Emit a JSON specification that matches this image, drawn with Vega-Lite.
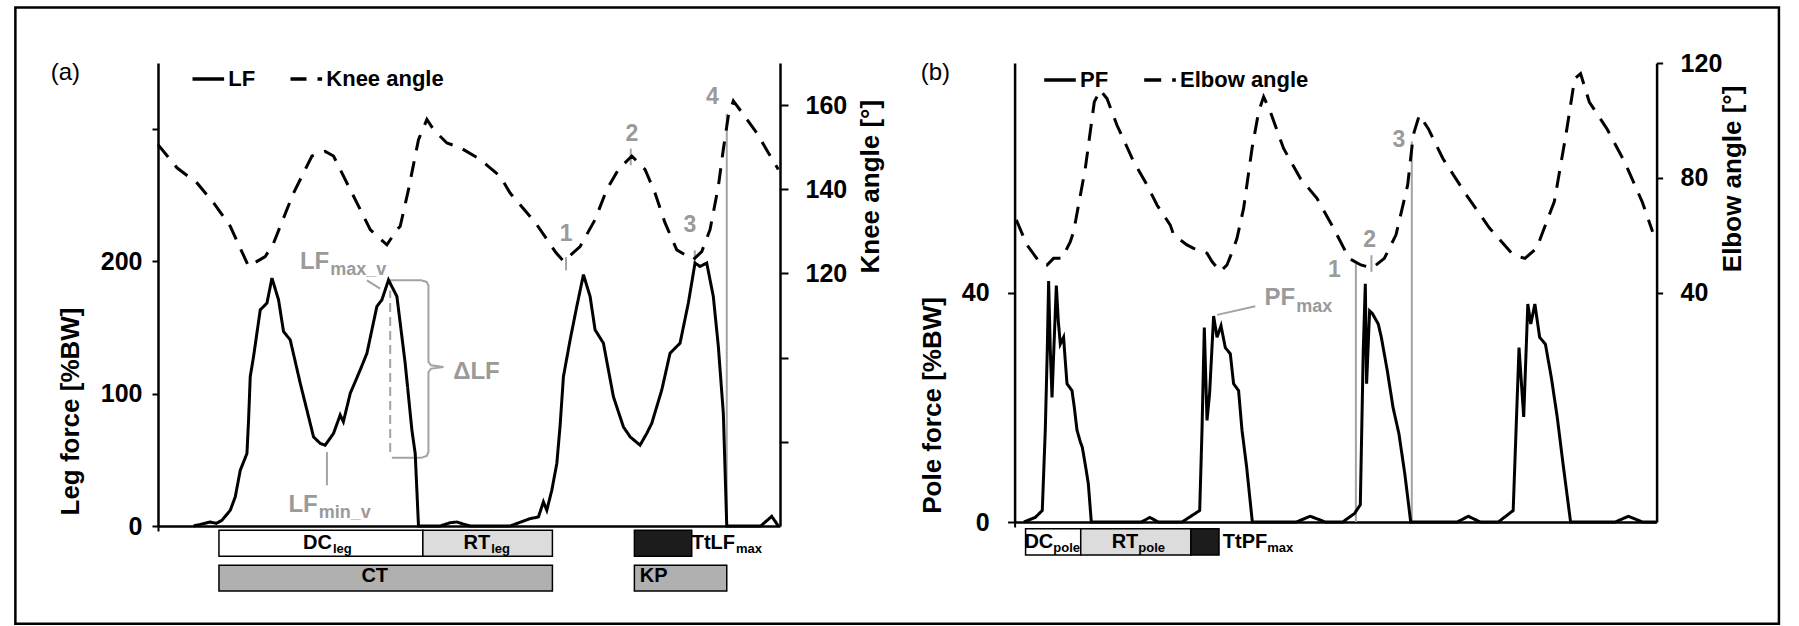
{
  "$schema": "https://vega.github.io/schema/vega-lite/v6.json",
  "background": "white",
  "padding": {"left": 14, "top": 6, "right": 0, "bottom": 0},
  "bounds": "flush",
  "spacing": 234.6,
  "resolve": {
    "scale": {"x": "independent", "y": "independent", "color": "independent", "strokeDash": "independent"},
    "legend": {"strokeDash": "independent"}
  },
  "datasets": {
    "legForce": [
      {"t":5.72,"f":0},{"t":8.4,"f":3},{"t":9.37,"f":2},{"t":10.28,"f":4.3},{"t":11.62,"f":11.9},{"t":12.42,"f":22},{"t":13.23,"f":42.2},{"t":14.3,"f":54.8},{"t":14.56,"f":80},{"t":14.83,"f":112.9},{"t":15.36,"f":128},{"t":16.44,"f":163.4},{"t":17.52,"f":168.5},{"t":18.32,"f":187.4},{"t":19.38,"f":171},{"t":20.18,"f":147},{"t":21.26,"f":140.7},{"t":22.87,"f":107.9},{"t":24.47,"f":77.6},{"t":25.0,"f":67.4},{"t":26.08,"f":62.4},{"t":26.88,"f":61.1},{"t":28.22,"f":70},{"t":29.29,"f":83.9},{"t":29.8,"f":78.8},{"t":30.91,"f":100.3},{"t":32.51,"f":118},{"t":33.59,"f":130.6},{"t":35.19,"f":166},{"t":36.0,"f":171},{"t":37.06,"f":186},{"t":38.41,"f":173.5},{"t":39.74,"f":123},{"t":40.82,"f":72.5},{"t":41.35,"f":54.8},{"t":41.88,"f":0},{"t":45.36,"f":0},{"t":46.97,"f":2.5},{"t":48.05,"f":3},{"t":49.06,"f":1.5},{"t":50.18,"f":0},{"t":56.61,"f":0},{"t":59.83,"f":5.6},{"t":61.16,"f":6.8},{"t":61.96,"f":18.2},{"t":62.51,"f":11.9},{"t":63.31,"f":27},{"t":64.12,"f":47.3},{"t":64.65,"f":76},{"t":65.18,"f":112.9},{"t":66.26,"f":140.7},{"t":67.33,"f":166},{"t":68.4,"f":190},{"t":69.47,"f":173.5},{"t":70.27,"f":148.3},{"t":71.61,"f":138.2},{"t":73.22,"f":97.7},{"t":74.82,"f":75},{"t":75.9,"f":67.4},{"t":77.5,"f":61.1},{"t":78.58,"f":70},{"t":79.38,"f":77.6},{"t":80.99,"f":102.8},{"t":82.32,"f":130.6},{"t":83.93,"f":138.2},{"t":85.26,"f":168.5},{"t":86.34,"f":198.8},{"t":87.14,"f":196.2},{"t":88.22,"f":198.8},{"t":89.28,"f":173.5},{"t":90.09,"f":135.6},{"t":90.89,"f":85.2},{"t":91.44,"f":0},{"t":96.9,"f":0},{"t":98.67,"f":7.3},{"t":99.73,"f":0}
    ],
    "kneeAngle": [
      {"t":0,"a":150.6},{"t":3.05,"a":145.1},{"t":6.27,"a":141.5},{"t":8.93,"a":136.8},{"t":11.62,"a":131.2},{"t":14.56,"a":121.7},{"t":17.24,"a":124},{"t":18.58,"a":127.2},{"t":19.65,"a":131.2},{"t":21.79,"a":139.1},{"t":24.75,"a":147.9},{"t":26.88,"a":149},{"t":28.22,"a":147.9},{"t":30.37,"a":141.5},{"t":32.51,"a":135.2},{"t":34.12,"a":130.4},{"t":36.8,"a":126.8},{"t":38.41,"a":130.4},{"t":38.94,"a":131.2},{"t":40.27,"a":139.9},{"t":41.88,"a":151.8},{"t":43.23,"a":156.6},{"t":44.29,"a":154.2},{"t":46.44,"a":151},{"t":48.58,"a":149.9},{"t":51.79,"a":147.1},{"t":55.0,"a":143.1},{"t":56.61,"a":139.1},{"t":60.71,"a":132},{"t":64.0,"a":124.9},{"t":65.23,"a":122.9},{"t":67.86,"a":126.4},{"t":70.27,"a":132.8},{"t":72.15,"a":139.9},{"t":74.02,"a":144.7},{"t":76.17,"a":147.9},{"t":78.31,"a":144.7},{"t":79.91,"a":139.1},{"t":81.52,"a":132},{"t":83.4,"a":125.6},{"t":86.07,"a":123.3},{"t":87.42,"a":125.2},{"t":88.75,"a":130.4},{"t":90.09,"a":140.7},{"t":90.89,"a":149.5},{"t":91.69,"a":157.4},{"t":92.5,"a":161},{"t":94.1,"a":157.8},{"t":96.26,"a":153.4},{"t":98.12,"a":148.7},{"t":99.73,"a":144.7}
    ],
    "poleForce": [
      {"t":1.45,"f":0},{"t":3.22,"f":0.8},{"t":4.31,"f":2},{"t":4.78,"f":16},{"t":5.09,"f":30},{"t":5.3,"f":42},{"t":5.56,"f":30},{"t":5.83,"f":21.7},{"t":6.11,"f":30},{"t":6.5,"f":41.2},{"t":6.81,"f":35},{"t":7.12,"f":31},{"t":7.63,"f":32.2},{"t":7.9,"f":28},{"t":8.16,"f":24.1},{"t":8.94,"f":22.9},{"t":9.3,"f":20},{"t":9.72,"f":16},{"t":10.23,"f":14},{"t":10.55,"f":13},{"t":11.01,"f":10},{"t":11.48,"f":6.7},{"t":11.95,"f":0},
      {"t":19.75,"f":0},{"t":21.06,"f":0.8},{"t":22.38,"f":0},
      {"t":26.09,"f":0},{"t":28.83,"f":2},{"t":29.19,"f":16},{"t":29.55,"f":33.9},{"t":29.97,"f":17.7},{"t":30.37,"f":22.3},{"t":31.0,"f":35.9},{"t":31.53,"f":32.2},{"t":32.15,"f":34.2},{"t":32.82,"f":30.4},{"t":33.6,"f":29.3},{"t":34.11,"f":24.1},{"t":34.89,"f":22.9},{"t":35.42,"f":16},{"t":36.14,"f":9.6},{"t":37.03,"f":0},
      {"t":43.88,"f":0},{"t":46.06,"f":1},{"t":48.4,"f":0},
      {"t":51.12,"f":0},{"t":52.96,"f":1.5},{"t":53.85,"f":3},{"t":54.31,"f":30},{"t":54.63,"f":41.5},{"t":54.83,"f":24.1},{"t":55.3,"f":36.8},{"t":55.75,"f":36.3},{"t":56.65,"f":34.5},{"t":57.12,"f":32.2},{"t":58.05,"f":26.4},{"t":58.94,"f":20},{"t":59.86,"f":15.4},{"t":60.78,"f":8.4},{"t":61.7,"f":0},
      {"t":68.96,"f":0},{"t":70.67,"f":1},{"t":72.54,"f":0},
      {"t":75.34,"f":0},{"t":77.66,"f":2},{"t":78.57,"f":30.4},{"t":79.3,"f":18.3},{"t":79.94,"f":38},{"t":80.4,"f":34.5},{"t":81.04,"f":38},{"t":81.78,"f":32.2},{"t":82.68,"f":31},{"t":83.6,"f":25.2},{"t":84.52,"f":18.3},{"t":85.42,"f":10.2},{"t":86.6,"f":0},
      {"t":93.57,"f":0},{"t":95.6,"f":1},{"t":97.77,"f":0},{"t":99.9,"f":0}
    ],
    "elbowAngle": [
      {"t":0.26,"a":65.3},{"t":1.93,"a":56.6},{"t":4.0,"a":50.2},{"t":5.05,"a":49.6},{"t":6.07,"a":51.9},{"t":7.38,"a":51.9},{"t":8.68,"a":57.7},{"t":9.19,"a":61.2},{"t":11.01,"a":83.2},{"t":12.41,"a":106.4},{"t":13.35,"a":110.5},{"t":14.39,"a":107.6},{"t":15.95,"a":98.3},{"t":18.54,"a":85.6},{"t":20.62,"a":77.5},{"t":22.18,"a":70.5},{"t":24.25,"a":63.5},{"t":24.77,"a":60.1},{"t":26.85,"a":56.6},{"t":27.88,"a":55.4},{"t":29.97,"a":53.7},{"t":30.75,"a":50.8},{"t":32.04,"a":47.3},{"t":33.08,"a":49.6},{"t":34.11,"a":55.4},{"t":34.64,"a":58.9},{"t":35.67,"a":69.3},{"t":36.98,"a":90.2},{"t":38.01,"a":103},{"t":38.79,"a":108.2},{"t":39.83,"a":103},{"t":41.9,"a":90.2},{"t":44.5,"a":79.8},{"t":47.1,"a":72.8},{"t":49.69,"a":62.4},{"t":52.1,"a":51.9},{"t":53.93,"a":49.6},{"t":55.72,"a":48.5},{"t":57.59,"a":51.9},{"t":59.41,"a":60.1},{"t":61.23,"a":77.5},{"t":62.1,"a":94.9},{"t":63.04,"a":101.8},{"t":64.44,"a":97.1},{"t":66.71,"a":86.7},{"t":70.36,"a":74},{"t":74.0,"a":62.4},{"t":77.68,"a":53.1},{"t":79.49,"a":51.9},{"t":81.31,"a":55.4},{"t":84.07,"a":71.7},{"t":85.87,"a":94.9},{"t":87.24,"a":114.5},{"t":88.16,"a":116.3},{"t":89.52,"a":106.4},{"t":92.26,"a":97.1},{"t":95.0,"a":85.6},{"t":97.74,"a":71.7},{"t":99.38,"a":61.2}
    ],
    "phasesA": [
      {"phase":"DC_leg","start":9.8,"end":42.58,"lane":"upper"},
      {"phase":"RT_leg","start":42.58,"end":63.41,"lane":"upper"},
      {"phase":"TtLF_max","start":76.59,"end":85.81,"lane":"upper"},
      {"phase":"CT","start":9.8,"end":63.41,"lane":"lower"},
      {"phase":"KP","start":76.59,"end":91.44,"lane":"lower"}
    ],
    "phasesB": [
      {"phase":"DC_pole","start":1.71,"end":10.3},
      {"phase":"RT_pole","start":10.3,"end":27.46},
      {"phase":"TtPF_max","start":27.46,"end":31.84}
    ],
    "barTextA": [
      {"t":27.96,"f":-13,"main":"DC","sub":"leg"},
      {"t":53.4,"f":-13,"main":"RT","sub":"leg"},
      {"t":92.77,"f":-13,"main":"TtLF","sub":"max"},
      {"t":36.99,"f":-37.5,"main":"CT","sub":""},
      {"t":81.93,"f":-38,"main":"KP","sub":""}
    ],
    "barTextB": [
      {"t":6.03,"f":-3.43,"main":"DC","sub":"pole"},
      {"t":19.27,"f":-3.43,"main":"RT","sub":"pole"},
      {"t":39.36,"f":-3.43,"main":"TtPF","sub":"max"}
    ],
    "grayRulesA": [
      {"t":91.44,"t2":91.44,"f":0,"f2":311.7},
      {"t":65.6,"t2":65.6,"f":193.3,"f2":203.3},
      {"t":76.0,"t2":76.0,"f":272.7,"f2":285.3},
      {"t":86.3,"t2":86.3,"f":195.8,"f2":208.4},
      {"t":27.16,"t2":27.16,"f":30.8,"f2":55.9},
      {"t":33.59,"t2":35.72,"f":185.7,"f2":179.5}
    ],
    "grayRulesB": [
      {"t":53.16,"t2":53.16,"f":0,"f2":45.1},
      {"t":61.87,"t2":61.87,"f":0,"f2":66.3},
      {"t":55.58,"t2":55.58,"f":43.6,"f2":46.5},
      {"t":31.53,"t2":37.49,"f":36.1,"f2":37.6}
    ],
    "braceA": [
      {"i":1,"t":37.33,"f":185.7},{"i":2,"t":42.3,"f":185.7},{"i":3,"t":43.2,"f":184.5},{"i":4,"t":43.48,"f":182},{"i":5,"t":43.48,"f":124},{"i":6,"t":43.9,"f":121.5},{"i":7,"t":45.9,"f":120.2},{"i":8,"t":43.9,"f":119},{"i":9,"t":43.48,"f":116.4},{"i":10,"t":43.48,"f":56},{"i":11,"t":43.2,"f":53},{"i":12,"t":42.3,"f":51.5},{"i":13,"t":37.6,"f":51.5}
    ],
    "subTextA": [
      {"t":27.53,"f":199.8,"main":"LF","sub":"max_v"},
      {"t":25.68,"f":15.9,"main":"LF","sub":"min_v"}
    ],
    "subTextB": [
      {"t":43.72,"f":39.0,"main":"PF","sub":"max"}
    ],
    "numbersA": [
      {"t":65.6,"f":220.4,"label":"1"},
      {"t":76.17,"f":296.6,"label":"2"},
      {"t":85.5,"f":227.3,"label":"3"},
      {"t":89.15,"f":324.3,"label":"4"}
    ],
    "numbersB": [
      {"t":49.8,"f":43.9,"label":"1"},
      {"t":55.3,"f":49.2,"label":"2"},
      {"t":59.86,"f":66.6,"label":"3"}
    ]
  },
  "hconcat": [
    {
      "width": 622,
      "height": 463,
      "resolve": {"scale": {"y": "independent"}},
      "layer": [
        {
          "layer": [
            {
              "data": {"values": [{}]},
              "mark": {"type": "rect", "fill": "transparent", "stroke": "black", "strokeWidth": 2.5},
              "encoding": {
                "x": {"datum": -22.93, "type": "quantitative", "scale": {"domain": [0, 100], "nice": false, "zero": false}, "axis": {"values": [0], "labels": false, "title": null, "tickSize": 5}},
                "x2": {"datum": 260.6},
                "y": {"datum": -73.8, "type": "quantitative", "scale": {"domain": [0, 350], "nice": false, "zero": false}, "axis": {"values": [0, 100, 200, 300], "labelExpr": "datum.value <= 200 ? datum.label : ''", "tickSize": 6, "labelPadding": 10, "title": "Leg force [%BW]", "titleX": -87.7, "titleY": 452, "titleAngle": 270, "titleAlign": "left", "titleBaseline": "middle"}},
                "y2": {"datum": 391.9}
              }
            },
            {
              "data": {"name": "phasesA"},
              "transform": [{"filter": "datum.lane === 'upper'"}],
              "mark": {"type": "rect", "stroke": "black", "strokeWidth": 1.5},
              "encoding": {
                "x": {"field": "start", "type": "quantitative", "scale": {"domain": [0, 100], "nice": false, "zero": false}, "axis": {"values": [0], "labels": false, "title": null, "tickSize": 5}},
                "x2": {"field": "end"},
                "y": {"datum": -3.3, "type": "quantitative", "scale": {"domain": [0, 350], "nice": false, "zero": false}, "axis": {"values": [0, 100, 200, 300], "labelExpr": "datum.value <= 200 ? datum.label : ''", "tickSize": 6, "labelPadding": 10, "title": "Leg force [%BW]", "titleX": -87.7, "titleY": 452, "titleAngle": 270, "titleAlign": "left", "titleBaseline": "middle"}},
                "y2": {"datum": -22.9},
                "color": {"field": "phase", "type": "nominal", "legend": null,
                          "scale": {"domain": ["DC_leg", "RT_leg", "TtLF_max", "CT", "KP"], "range": ["#ffffff", "#dcdcdc", "#1c1c1c", "#b0b0b0", "#b0b0b0"]}}
              }
            },
            {
              "data": {"name": "phasesA"},
              "transform": [{"filter": "datum.lane === 'lower'"}],
              "mark": {"type": "rect", "stroke": "black", "strokeWidth": 1.5},
              "encoding": {
                "x": {"field": "start", "type": "quantitative", "scale": {"domain": [0, 100], "nice": false, "zero": false}, "axis": {"values": [0], "labels": false, "title": null, "tickSize": 5}},
                "x2": {"field": "end"},
                "y": {"datum": -29.7, "type": "quantitative", "scale": {"domain": [0, 350], "nice": false, "zero": false}, "axis": {"values": [0, 100, 200, 300], "labelExpr": "datum.value <= 200 ? datum.label : ''", "tickSize": 6, "labelPadding": 10, "title": "Leg force [%BW]", "titleX": -87.7, "titleY": 452, "titleAngle": 270, "titleAlign": "left", "titleBaseline": "middle"}},
                "y2": {"datum": -49.1},
                "color": {"field": "phase", "type": "nominal", "legend": null,
                          "scale": {"domain": ["DC_leg", "RT_leg", "TtLF_max", "CT", "KP"], "range": ["#ffffff", "#dcdcdc", "#1c1c1c", "#b0b0b0", "#b0b0b0"]}}
              }
            },
            {
              "data": {"name": "barTextA"},
              "mark": {"type": "text", "align": "right", "baseline": "middle", "fontSize": 20, "fontWeight": "bold", "color": "black"},
              "encoding": {
                "x": {"field": "t", "type": "quantitative", "scale": {"domain": [0, 100], "nice": false, "zero": false}, "axis": {"values": [0], "labels": false, "title": null, "tickSize": 5}},
                "y": {"field": "f", "type": "quantitative", "scale": {"domain": [0, 350], "nice": false, "zero": false}, "axis": {"values": [0, 100, 200, 300], "labelExpr": "datum.value <= 200 ? datum.label : ''", "tickSize": 6, "labelPadding": 10, "title": "Leg force [%BW]", "titleX": -87.7, "titleY": 452, "titleAngle": 270, "titleAlign": "left", "titleBaseline": "middle"}},
                "text": {"field": "main"}
              }
            },
            {
              "data": {"name": "barTextA"},
              "mark": {"type": "text", "align": "left", "baseline": "middle", "dx": 1, "dy": 6, "fontSize": 13, "fontWeight": "bold", "color": "black"},
              "encoding": {
                "x": {"field": "t", "type": "quantitative", "scale": {"domain": [0, 100], "nice": false, "zero": false}, "axis": {"values": [0], "labels": false, "title": null, "tickSize": 5}},
                "y": {"field": "f", "type": "quantitative", "scale": {"domain": [0, 350], "nice": false, "zero": false}, "axis": {"values": [0, 100, 200, 300], "labelExpr": "datum.value <= 200 ? datum.label : ''", "tickSize": 6, "labelPadding": 10, "title": "Leg force [%BW]", "titleX": -87.7, "titleY": 452, "titleAngle": 270, "titleAlign": "left", "titleBaseline": "middle"}},
                "text": {"field": "sub"}
              }
            },
            {
              "data": {"name": "grayRulesA"},
              "mark": {"type": "rule", "color": "#a3a3a3", "strokeWidth": 2},
              "encoding": {
                "x": {"field": "t", "type": "quantitative", "scale": {"domain": [0, 100], "nice": false, "zero": false}, "axis": {"values": [0], "labels": false, "title": null, "tickSize": 5}},
                "x2": {"field": "t2"},
                "y": {"field": "f", "type": "quantitative", "scale": {"domain": [0, 350], "nice": false, "zero": false}, "axis": {"values": [0, 100, 200, 300], "labelExpr": "datum.value <= 200 ? datum.label : ''", "tickSize": 6, "labelPadding": 10, "title": "Leg force [%BW]", "titleX": -87.7, "titleY": 452, "titleAngle": 270, "titleAlign": "left", "titleBaseline": "middle"}},
                "y2": {"field": "f2"}
              }
            },
            {
              "data": {"values": [{"t": 37.33, "f": 56, "f2": 178}]},
              "mark": {"type": "rule", "color": "#a3a3a3", "strokeWidth": 2, "strokeDash": [9, 5]},
              "encoding": {
                "x": {"field": "t", "type": "quantitative", "scale": {"domain": [0, 100], "nice": false, "zero": false}, "axis": {"values": [0], "labels": false, "title": null, "tickSize": 5}},
                "y": {"field": "f", "type": "quantitative", "scale": {"domain": [0, 350], "nice": false, "zero": false}, "axis": {"values": [0, 100, 200, 300], "labelExpr": "datum.value <= 200 ? datum.label : ''", "tickSize": 6, "labelPadding": 10, "title": "Leg force [%BW]", "titleX": -87.7, "titleY": 452, "titleAngle": 270, "titleAlign": "left", "titleBaseline": "middle"}},
                "y2": {"field": "f2"}
              }
            },
            {
              "data": {"name": "braceA"},
              "mark": {"type": "line", "color": "#a3a3a3", "strokeWidth": 2},
              "encoding": {
                "x": {"field": "t", "type": "quantitative", "scale": {"domain": [0, 100], "nice": false, "zero": false}, "axis": {"values": [0], "labels": false, "title": null, "tickSize": 5}},
                "y": {"field": "f", "type": "quantitative", "scale": {"domain": [0, 350], "nice": false, "zero": false}, "axis": {"values": [0, 100, 200, 300], "labelExpr": "datum.value <= 200 ? datum.label : ''", "tickSize": 6, "labelPadding": 10, "title": "Leg force [%BW]", "titleX": -87.7, "titleY": 452, "titleAngle": 270, "titleAlign": "left", "titleBaseline": "middle"}},
                "order": {"field": "i", "type": "quantitative"}
              }
            },
            {
              "data": {"name": "subTextA"},
              "mark": {"type": "text", "align": "right", "baseline": "middle", "fontSize": 24, "fontWeight": "bold", "color": "#9a9a9a"},
              "encoding": {
                "x": {"field": "t", "type": "quantitative", "scale": {"domain": [0, 100], "nice": false, "zero": false}, "axis": {"values": [0], "labels": false, "title": null, "tickSize": 5}},
                "y": {"field": "f", "type": "quantitative", "scale": {"domain": [0, 350], "nice": false, "zero": false}, "axis": {"values": [0, 100, 200, 300], "labelExpr": "datum.value <= 200 ? datum.label : ''", "tickSize": 6, "labelPadding": 10, "title": "Leg force [%BW]", "titleX": -87.7, "titleY": 452, "titleAngle": 270, "titleAlign": "left", "titleBaseline": "middle"}},
                "text": {"field": "main"}
              }
            },
            {
              "data": {"name": "subTextA"},
              "mark": {"type": "text", "align": "left", "baseline": "middle", "dx": 1, "dy": 8.5, "fontSize": 18, "fontWeight": "bold", "color": "#9a9a9a"},
              "encoding": {
                "x": {"field": "t", "type": "quantitative", "scale": {"domain": [0, 100], "nice": false, "zero": false}, "axis": {"values": [0], "labels": false, "title": null, "tickSize": 5}},
                "y": {"field": "f", "type": "quantitative", "scale": {"domain": [0, 350], "nice": false, "zero": false}, "axis": {"values": [0, 100, 200, 300], "labelExpr": "datum.value <= 200 ? datum.label : ''", "tickSize": 6, "labelPadding": 10, "title": "Leg force [%BW]", "titleX": -87.7, "titleY": 452, "titleAngle": 270, "titleAlign": "left", "titleBaseline": "middle"}},
                "text": {"field": "sub"}
              }
            },
            {
              "data": {"name": "numbersA"},
              "mark": {"type": "text", "align": "center", "baseline": "middle", "fontSize": 23, "fontWeight": "bold", "color": "#9a9a9a"},
              "encoding": {
                "x": {"field": "t", "type": "quantitative", "scale": {"domain": [0, 100], "nice": false, "zero": false}, "axis": {"values": [0], "labels": false, "title": null, "tickSize": 5}},
                "y": {"field": "f", "type": "quantitative", "scale": {"domain": [0, 350], "nice": false, "zero": false}, "axis": {"values": [0, 100, 200, 300], "labelExpr": "datum.value <= 200 ? datum.label : ''", "tickSize": 6, "labelPadding": 10, "title": "Leg force [%BW]", "titleX": -87.7, "titleY": 452, "titleAngle": 270, "titleAlign": "left", "titleBaseline": "middle"}},
                "text": {"field": "label"}
              }
            },
            {
              "data": {"values": [{"t": 47.45, "f": 116.4, "label": "ΔLF"}]},
              "mark": {"type": "text", "align": "left", "baseline": "middle", "fontSize": 24, "fontWeight": "bold", "color": "#9a9a9a"},
              "encoding": {
                "x": {"field": "t", "type": "quantitative", "scale": {"domain": [0, 100], "nice": false, "zero": false}, "axis": {"values": [0], "labels": false, "title": null, "tickSize": 5}},
                "y": {"field": "f", "type": "quantitative", "scale": {"domain": [0, 350], "nice": false, "zero": false}, "axis": {"values": [0, 100, 200, 300], "labelExpr": "datum.value <= 200 ? datum.label : ''", "tickSize": 6, "labelPadding": 10, "title": "Leg force [%BW]", "titleX": -87.7, "titleY": 452, "titleAngle": 270, "titleAlign": "left", "titleBaseline": "middle"}},
                "text": {"field": "label"}
              }
            },
            {
              "data": {"values": [{"t": -14.9, "f": 342.2, "label": "(a)"}]},
              "mark": {"type": "text", "align": "center", "baseline": "middle", "fontSize": 24, "color": "black"},
              "encoding": {
                "x": {"field": "t", "type": "quantitative", "scale": {"domain": [0, 100], "nice": false, "zero": false}, "axis": {"values": [0], "labels": false, "title": null, "tickSize": 5}},
                "y": {"field": "f", "type": "quantitative", "scale": {"domain": [0, 350], "nice": false, "zero": false}, "axis": {"values": [0, 100, 200, 300], "labelExpr": "datum.value <= 200 ? datum.label : ''", "tickSize": 6, "labelPadding": 10, "title": "Leg force [%BW]", "titleX": -87.7, "titleY": 452, "titleAngle": 270, "titleAlign": "left", "titleBaseline": "middle"}},
                "text": {"field": "label"}
              }
            },
            {
              "data": {"name": "legForce"},
              "mark": {"type": "line", "color": "black", "strokeWidth": 3},
              "encoding": {
                "x": {"field": "t", "type": "quantitative", "scale": {"domain": [0, 100], "nice": false, "zero": false}, "axis": {"values": [0], "labels": false, "title": null, "tickSize": 5}},
                "y": {"field": "f", "type": "quantitative", "scale": {"domain": [0, 350], "nice": false, "zero": false}, "axis": {"values": [0, 100, 200, 300], "labelExpr": "datum.value <= 200 ? datum.label : ''", "tickSize": 6, "labelPadding": 10, "title": "Leg force [%BW]", "titleX": -87.7, "titleY": 452, "titleAngle": 270, "titleAlign": "left", "titleBaseline": "middle"}},
                "strokeDash": {"datum": "LF", "type": "nominal",
                               "scale": {"domain": ["LF", "Knee angle"], "range": [[1, 0], [16, 11]]},
                               "legend": {"title": null, "orient": "none", "legendX": 32.3, "legendY": -2, "direction": "horizontal"}}
              }
            }
          ]
        },
        {
          "layer": [
            {
              "data": {"name": "kneeAngle"},
              "mark": {"type": "line", "color": "black", "strokeWidth": 3},
              "encoding": {
                "x": {"field": "t", "type": "quantitative", "scale": {"domain": [0, 100], "nice": false, "zero": false}, "axis": {"values": [0], "labels": false, "title": null, "tickSize": 5}},
                "y": {"field": "a", "type": "quantitative", "scale": {"domain": [60, 170], "nice": false, "zero": false},
                      "axis": {"orient": "right", "values": [80, 100, 120, 140, 160], "labelExpr": "datum.value >= 120 ? datum.label : ''", "tickSize": 8, "labelPadding": 17,
                               "title": "Knee angle [°]", "titleX": 90.3, "titleY": 210, "titleAngle": 270, "titleAlign": "left", "titleBaseline": "middle"}},
                "strokeDash": {"datum": "Knee angle", "type": "nominal",
                               "scale": {"domain": ["LF", "Knee angle"], "range": [[1, 0], [16, 11]]},
                               "legend": {"title": null, "orient": "none", "legendX": 32.3, "legendY": -2, "direction": "horizontal"}}
              }
            }
          ]
        }
      ]
    },
    {
      "width": 642,
      "height": 459,
      "resolve": {"scale": {"y": "independent"}},
      "layer": [
        {
          "layer": [
            {
              "data": {"name": "phasesB"},
              "mark": {"type": "rect", "stroke": "black", "strokeWidth": 1.5},
              "encoding": {
                "x": {"field": "start", "type": "quantitative", "scale": {"domain": [0, 100], "nice": false, "zero": false}, "axis": {"values": [0], "labels": false, "title": null, "tickSize": 5}},
                "x2": {"field": "end"},
                "y": {"datum": -1.17, "type": "quantitative", "scale": {"domain": [0, 80], "nice": false, "zero": false}, "axis": {"values": [0, 40], "tickSize": 7, "labelPadding": 18.5, "title": "Pole force [%BW]", "titleX": -82.3, "titleY": 450.3, "titleAngle": 270, "titleAlign": "left", "titleBaseline": "middle"}},
                "y2": {"datum": -5.75},
                "color": {"field": "phase", "type": "nominal", "legend": null,
                          "scale": {"domain": ["DC_pole", "RT_pole", "TtPF_max"], "range": ["#ffffff", "#dcdcdc", "#1c1c1c"]}}
              }
            },
            {
              "data": {"name": "barTextB"},
              "mark": {"type": "text", "align": "right", "baseline": "middle", "fontSize": 20, "fontWeight": "bold", "color": "black"},
              "encoding": {
                "x": {"field": "t", "type": "quantitative", "scale": {"domain": [0, 100], "nice": false, "zero": false}, "axis": {"values": [0], "labels": false, "title": null, "tickSize": 5}},
                "y": {"field": "f", "type": "quantitative", "scale": {"domain": [0, 80], "nice": false, "zero": false}, "axis": {"values": [0, 40], "tickSize": 7, "labelPadding": 18.5, "title": "Pole force [%BW]", "titleX": -82.3, "titleY": 450.3, "titleAngle": 270, "titleAlign": "left", "titleBaseline": "middle"}},
                "text": {"field": "main"}
              }
            },
            {
              "data": {"name": "barTextB"},
              "mark": {"type": "text", "align": "left", "baseline": "middle", "dx": 0, "dy": 6.5, "fontSize": 13, "fontWeight": "bold", "color": "black"},
              "encoding": {
                "x": {"field": "t", "type": "quantitative", "scale": {"domain": [0, 100], "nice": false, "zero": false}, "axis": {"values": [0], "labels": false, "title": null, "tickSize": 5}},
                "y": {"field": "f", "type": "quantitative", "scale": {"domain": [0, 80], "nice": false, "zero": false}, "axis": {"values": [0, 40], "tickSize": 7, "labelPadding": 18.5, "title": "Pole force [%BW]", "titleX": -82.3, "titleY": 450.3, "titleAngle": 270, "titleAlign": "left", "titleBaseline": "middle"}},
                "text": {"field": "sub"}
              }
            },
            {
              "data": {"name": "grayRulesB"},
              "mark": {"type": "rule", "color": "#a3a3a3", "strokeWidth": 2},
              "encoding": {
                "x": {"field": "t", "type": "quantitative", "scale": {"domain": [0, 100], "nice": false, "zero": false}, "axis": {"values": [0], "labels": false, "title": null, "tickSize": 5}},
                "x2": {"field": "t2"},
                "y": {"field": "f", "type": "quantitative", "scale": {"domain": [0, 80], "nice": false, "zero": false}, "axis": {"values": [0, 40], "tickSize": 7, "labelPadding": 18.5, "title": "Pole force [%BW]", "titleX": -82.3, "titleY": 450.3, "titleAngle": 270, "titleAlign": "left", "titleBaseline": "middle"}},
                "y2": {"field": "f2"}
              }
            },
            {
              "data": {"name": "subTextB"},
              "mark": {"type": "text", "align": "right", "baseline": "middle", "fontSize": 24, "fontWeight": "bold", "color": "#9a9a9a"},
              "encoding": {
                "x": {"field": "t", "type": "quantitative", "scale": {"domain": [0, 100], "nice": false, "zero": false}, "axis": {"values": [0], "labels": false, "title": null, "tickSize": 5}},
                "y": {"field": "f", "type": "quantitative", "scale": {"domain": [0, 80], "nice": false, "zero": false}, "axis": {"values": [0, 40], "tickSize": 7, "labelPadding": 18.5, "title": "Pole force [%BW]", "titleX": -82.3, "titleY": 450.3, "titleAngle": 270, "titleAlign": "left", "titleBaseline": "middle"}},
                "text": {"field": "main"}
              }
            },
            {
              "data": {"name": "subTextB"},
              "mark": {"type": "text", "align": "left", "baseline": "middle", "dx": 1, "dy": 9, "fontSize": 18, "fontWeight": "bold", "color": "#9a9a9a"},
              "encoding": {
                "x": {"field": "t", "type": "quantitative", "scale": {"domain": [0, 100], "nice": false, "zero": false}, "axis": {"values": [0], "labels": false, "title": null, "tickSize": 5}},
                "y": {"field": "f", "type": "quantitative", "scale": {"domain": [0, 80], "nice": false, "zero": false}, "axis": {"values": [0, 40], "tickSize": 7, "labelPadding": 18.5, "title": "Pole force [%BW]", "titleX": -82.3, "titleY": 450.3, "titleAngle": 270, "titleAlign": "left", "titleBaseline": "middle"}},
                "text": {"field": "sub"}
              }
            },
            {
              "data": {"name": "numbersB"},
              "mark": {"type": "text", "align": "center", "baseline": "middle", "fontSize": 23, "fontWeight": "bold", "color": "#9a9a9a"},
              "encoding": {
                "x": {"field": "t", "type": "quantitative", "scale": {"domain": [0, 100], "nice": false, "zero": false}, "axis": {"values": [0], "labels": false, "title": null, "tickSize": 5}},
                "y": {"field": "f", "type": "quantitative", "scale": {"domain": [0, 80], "nice": false, "zero": false}, "axis": {"values": [0, 40], "tickSize": 7, "labelPadding": 18.5, "title": "Pole force [%BW]", "titleX": -82.3, "titleY": 450.3, "titleAngle": 270, "titleAlign": "left", "titleBaseline": "middle"}},
                "text": {"field": "label"}
              }
            },
            {
              "data": {"values": [{"t": -12.35, "f": 78.2, "label": "(b)"}]},
              "mark": {"type": "text", "align": "center", "baseline": "middle", "fontSize": 24, "color": "black"},
              "encoding": {
                "x": {"field": "t", "type": "quantitative", "scale": {"domain": [0, 100], "nice": false, "zero": false}, "axis": {"values": [0], "labels": false, "title": null, "tickSize": 5}},
                "y": {"field": "f", "type": "quantitative", "scale": {"domain": [0, 80], "nice": false, "zero": false}, "axis": {"values": [0, 40], "tickSize": 7, "labelPadding": 18.5, "title": "Pole force [%BW]", "titleX": -82.3, "titleY": 450.3, "titleAngle": 270, "titleAlign": "left", "titleBaseline": "middle"}},
                "text": {"field": "label"}
              }
            },
            {
              "data": {"name": "poleForce"},
              "mark": {"type": "line", "color": "black", "strokeWidth": 3},
              "encoding": {
                "x": {"field": "t", "type": "quantitative", "scale": {"domain": [0, 100], "nice": false, "zero": false}, "axis": {"values": [0], "labels": false, "title": null, "tickSize": 5}},
                "y": {"field": "f", "type": "quantitative", "scale": {"domain": [0, 80], "nice": false, "zero": false}, "axis": {"values": [0, 40], "tickSize": 7, "labelPadding": 18.5, "title": "Pole force [%BW]", "titleX": -82.3, "titleY": 450.3, "titleAngle": 270, "titleAlign": "left", "titleBaseline": "middle"}},
                "strokeDash": {"datum": "PF", "type": "nominal",
                               "scale": {"domain": ["PF", "Elbow angle"], "range": [[1, 0], [17, 11]]},
                               "legend": {"title": null, "orient": "none", "legendX": 27.4, "legendY": -1, "direction": "horizontal"}}
              }
            }
          ]
        },
        {
          "layer": [
            {
              "data": {"name": "elbowAngle"},
              "mark": {"type": "line", "color": "black", "strokeWidth": 3},
              "encoding": {
                "x": {"field": "t", "type": "quantitative", "scale": {"domain": [0, 100], "nice": false, "zero": false}, "axis": {"values": [0], "labels": false, "title": null, "tickSize": 5}},
                "y": {"field": "a", "type": "quantitative", "scale": {"domain": [-40, 120], "nice": false, "zero": false},
                      "axis": {"orient": "right", "values": [40, 80, 120], "tickSize": 6, "labelPadding": 17.5,
                               "title": "Elbow angle [°]", "titleX": 76.3, "titleY": 208.7, "titleAngle": 270, "titleAlign": "left", "titleBaseline": "middle"}},
                "strokeDash": {"datum": "Elbow angle", "type": "nominal",
                               "scale": {"domain": ["PF", "Elbow angle"], "range": [[1, 0], [17, 11]]},
                               "legend": {"title": null, "orient": "none", "legendX": 27.4, "legendY": -1, "direction": "horizontal"}}
              }
            }
          ]
        }
      ]
    }
  ],
  "config": {
    "view": {"stroke": null},
    "font": "Liberation Sans",
    "axis": {
      "grid": false,
      "domainColor": "black",
      "domainWidth": 2.5,
      "tickColor": "black",
      "tickWidth": 2,
      "labelFont": "Liberation Sans",
      "labelFontSize": 25,
      "labelFontWeight": "bold",
      "labelColor": "black",
      "labelOverlap": false,
      "titleFont": "Liberation Sans",
      "titleFontSize": 26,
      "titleFontWeight": "bold",
      "titleColor": "black"
    },
    "legend": {
      "symbolType": "stroke",
      "symbolSize": 1000,
      "symbolStrokeWidth": 3.5,
      "symbolStrokeColor": "black",
      "labelFont": "Liberation Sans",
      "labelFontSize": 22,
      "labelFontWeight": "bold",
      "labelColor": "black",
      "labelOffset": 2,
      "columnPadding": 28,
      "padding": 0
    }
  }
}
